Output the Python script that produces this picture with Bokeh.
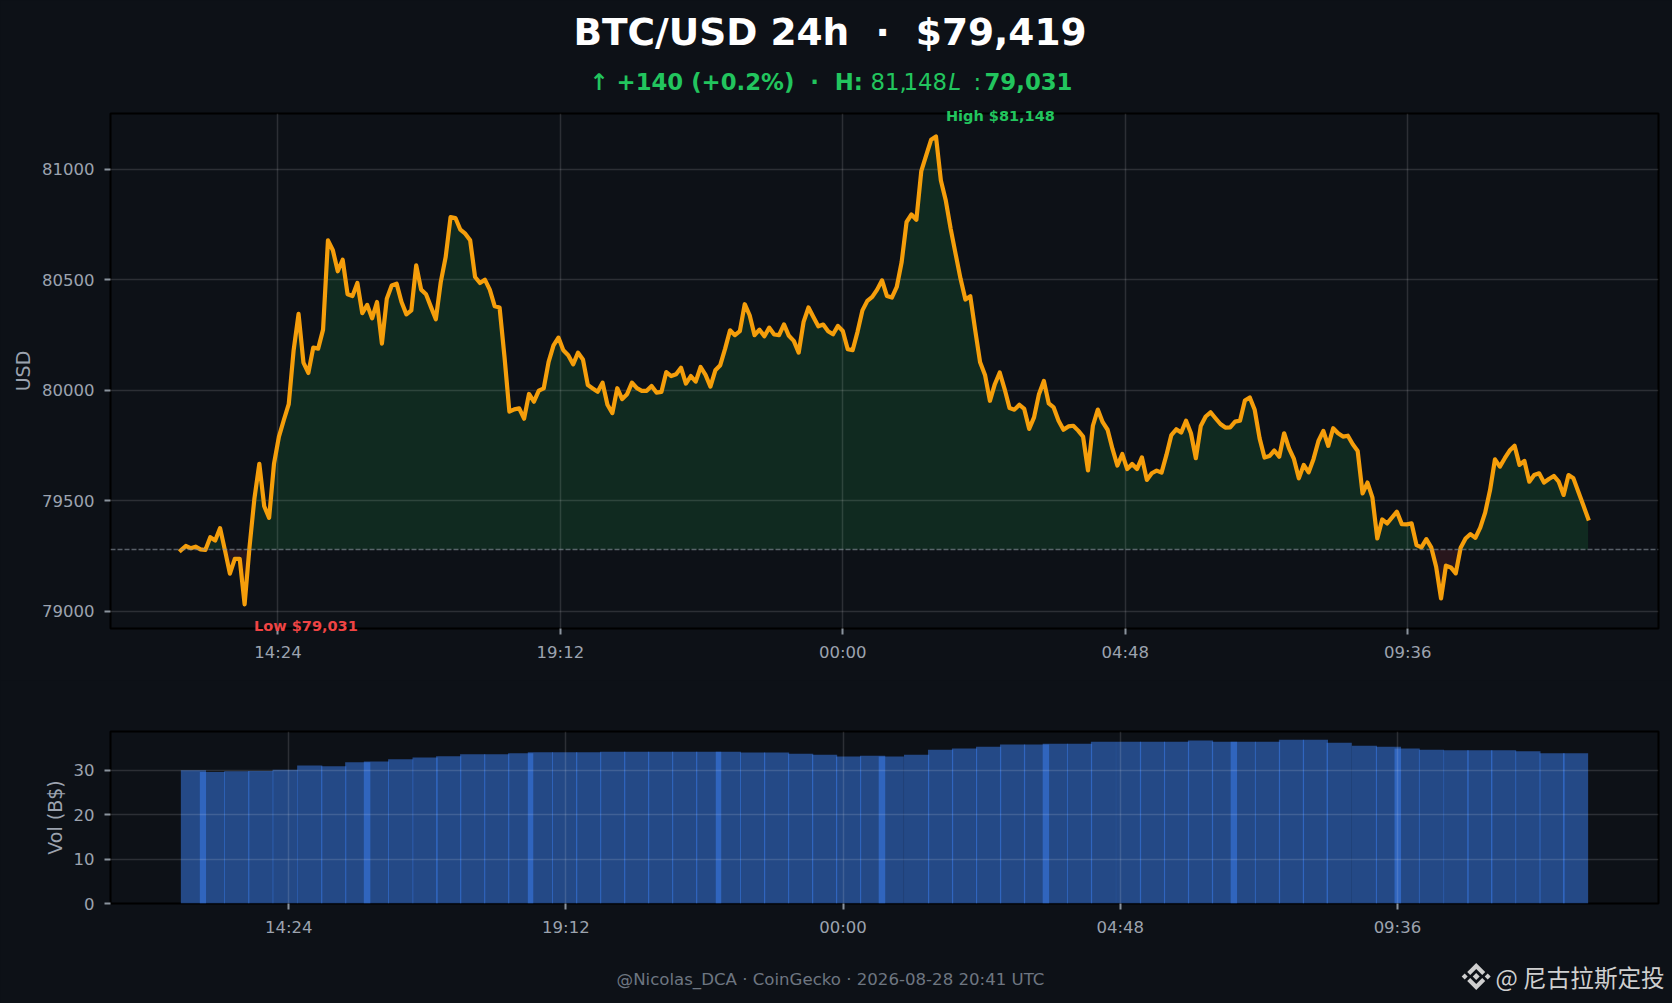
from bokeh.plotting import figure
from bokeh.layouts import column
from bokeh.models import Range1d, FixedTicker, Span, ColumnDataSource
from bokeh.core.properties import value
from bokeh.embed import file_html
from bokeh.resources import INLINE

BG = "#0d1117"
TICK = "#8b949e"
TICK_TEXT = "#9ca3af"
FONT = "DejaVu Sans"

start_hour = 12.75
step_hours = 5 / 60
base_price = 79279
prices = [
    79275, 79295, 79285, 79292, 79280, 79277, 79335, 79320, 79376, 79275,
    79170, 79237, 79237, 79031, 79290, 79510, 79667, 79475, 79422, 79668,
    79790, 79865, 79937,
    80181, 80345, 80125, 80078, 80193, 80188, 80274, 80678, 80633, 80538,
    80590, 80434, 80426, 80485, 80349, 80386, 80325, 80399, 80211, 80414,
    80474, 80482, 80399, 80343, 80361, 80565, 80455, 80434, 80377, 80321,
    80489, 80602, 80783, 80779, 80726, 80708, 80678, 80512, 80485, 80500,
    80455, 80380, 80374, 80151, 79903,
    79913, 79918, 79871, 79983, 79948, 79998,
    80008, 80128, 80203, 80238, 80181, 80158, 80117, 80170, 80139, 80023, 80008, 79993,
    80034, 79934, 79896, 80009, 79960, 79982, 80034, 80009, 79997, 79997,
    80019, 79989, 79992, 80082, 80064, 80072, 80102, 80030, 80064, 80039,
    80105, 80069, 80016, 80090, 80113, 80188, 80271, 80249, 80267, 80389,
    80339, 80249, 80274, 80244, 80283, 80252, 80249, 80298, 80246, 80223,
    80170, 80309, 80374, 80331, 80289, 80297, 80267, 80253, 80291, 80268,
    80185, 80181, 80264, 80361, 80404, 80422, 80455, 80497, 80426, 80419,
    80467, 80580, 80761, 80795, 80771, 80991, 81062, 81133, 81148, 80949,
    80858, 80730, 80617, 80505, 80410, 80425, 80271, 80126, 80069, 79952,
    80027, 80080, 80005, 79919, 79912, 79934, 79915, 79825, 79877, 79982,
    80042, 79940, 79922, 79862, 79821, 79836, 79839, 79817, 79790, 79637,
    79839, 79912, 79855, 79821, 79734, 79659,
    79711, 79643, 79666, 79643, 79696, 79594, 79624, 79636, 79627, 79707,
    79797, 79823, 79808, 79862, 79805, 79692, 79838, 79881, 79900, 79873,
    79847, 79831, 79832, 79858, 79862, 79953, 79967, 79911, 79782, 79695,
    79702, 79727, 79699, 79805, 79737, 79689, 79601, 79662, 79628, 79689,
    79770, 79816, 79748, 79828, 79805, 79790, 79794, 79755, 79725, 79533,
    79582, 79515, 79329, 79415, 79397, 79424, 79450, 79394, 79393, 79397,
    79299, 79289, 79326, 79289, 79201, 79058, 79206, 79198, 79171, 79287,
    79329, 79349, 79332, 79378, 79446, 79548, 79687, 79654, 79692, 79727,
    79749, 79662, 79680, 79586, 79616, 79624, 79582, 79598, 79612, 79586,
    79526, 79616, 79601, 79540, 79480, 79419,
]
vol_minutes = [
    0, 19.7, 45.0, 69.9, 95.3, 120.8, 145.7, 170.7, 190.1, 215.3,
    240.7, 265.2, 290.1, 315.1, 340.0, 360.5, 385.7, 410.6, 435.6, 460.5,
    485.4, 510.4, 535.3, 555.8, 581.0, 605.9, 630.9, 655.8, 680.7, 705.7,
    725.1, 751.4, 776.3, 801.2, 826.2, 851.1, 876.0, 895.5, 920.7, 945.6,
    971.6, 996.5, 1021.5, 1046.4, 1071.3, 1090.8, 1116.0, 1140.9, 1165.8, 1190.5,
    1216.7, 1241.7, 1261.1, 1286.4, 1312.0, 1336.6, 1361.3, 1386.6, 1411.7, 1436.1,
]
volumes = [
    30.0, 29.6, 29.8, 29.85, 30.15, 31.1, 30.9, 31.8, 32.0, 32.5,
    32.9, 33.15, 33.6, 33.6, 33.85, 34.05, 34.05, 34.05, 34.2, 34.2,
    34.2, 34.2, 34.2, 34.2, 34.0, 34.0, 33.75, 33.5, 33.1, 33.3,
    33.1, 33.5, 34.65, 34.9, 35.3, 35.8, 35.8, 36.0, 36.0, 36.45,
    36.45, 36.45, 36.45, 36.7, 36.45, 36.45, 36.45, 36.9, 36.9, 36.2,
    35.55, 35.3, 34.9, 34.65, 34.5, 34.5, 34.5, 34.3, 33.85, 33.85,
]
tick_hours = [14.4, 19.2, 24.0, 28.8, 33.6]
tick_labels = ["14:24", "19:12", "00:00", "04:48", "09:36"]
price_ticks = [79000, 79500, 80000, 80500, 81000]
vol_ticks = [0, 10, 20, 30]

hours = [start_hour + i * step_hours for i in range(len(prices))]
bar_hours = [start_hour + m / 60 for m in vol_minutes]
bar_width = 0.436
hi = max(prices)
lo = min(prices)
span_x = hours[-1] - hours[0]

MAIN_H, VOL_H = 680, 323
LEFT, RIGHT_PAD = 110, 14
FRAME_W = 1672 - LEFT - RIGHT_PAD
MAIN_TOP, MAIN_BOTTOM = 113, 628


def style(fig, ylabel, ticks, standoff):
    fig.background_fill_color = BG
    fig.border_fill_color = BG
    fig.outline_line_color = "#000000"
    fig.outline_line_width = 2
    fig.grid.grid_line_color = "#ffffff"
    fig.grid.grid_line_alpha = 0.13
    fig.grid.grid_line_width = 1.5
    fig.xaxis.ticker = FixedTicker(ticks=tick_hours)
    fig.xaxis.major_label_overrides = dict(zip(tick_hours, tick_labels))
    fig.yaxis.ticker = FixedTicker(ticks=ticks)
    fig.yaxis.formatter.use_scientific = False
    fig.yaxis.axis_label = ylabel
    fig.yaxis.axis_label_text_color = TICK_TEXT
    fig.yaxis.axis_label_text_font = FONT
    fig.yaxis.axis_label_text_font_size = "19px"
    fig.yaxis.axis_label_text_font_style = "normal"
    fig.yaxis.axis_label_standoff = standoff
    for ax in (fig.xaxis[0], fig.yaxis[0]):
        ax.axis_line_color = None
        ax.major_tick_line_color = TICK
        ax.major_tick_line_width = 2
        ax.major_tick_out = 6
        ax.major_tick_in = 0
        ax.minor_tick_line_color = None
        ax.major_label_text_color = TICK_TEXT
        ax.major_label_text_font = FONT
        ax.major_label_text_font_size = "16.5px"
    fig.xaxis[0].major_label_standoff = 8
    fig.yaxis[0].major_label_standoff = 10


x0, x1 = hours[0] - 0.05 * span_x, hours[-1] + 0.05 * span_x
y0, y1 = 78921.6, 81252
main = figure(width=1672, height=MAIN_H, output_backend="svg", toolbar_location=None,
              x_range=Range1d(x0, x1), y_range=Range1d(y0, y1),
              min_border_left=LEFT, min_border_right=RIGHT_PAD,
              min_border_top=MAIN_TOP, min_border_bottom=MAIN_H - MAIN_BOTTOM)
style(main, "USD", price_ticks, 5)

src = ColumnDataSource(dict(
    x=hours, y=prices, base=[base_price] * len(prices),
    up=[max(v, base_price) for v in prices],
    down=[min(v, base_price) for v in prices],
))
main.varea(x="x", y1="base", y2="up", source=src, fill_color="#22c55e", fill_alpha=0.14, level="image")
main.varea(x="x", y1="base", y2="down", source=src, fill_color="#ef4444", fill_alpha=0.12, level="image")
main.add_layout(Span(location=base_price, dimension="width", line_color=TICK, line_alpha=0.6,
                     line_width=1.4, line_dash="5 2"))
main.line(x="x", y="y", source=src, line_color="#f59e0b", line_width=4.2,
          line_join="round", line_cap="square")

bar_lo = bar_hours[0] - bar_width / 2
bar_hi = bar_hours[-1] + bar_width / 2
bar_span = bar_hi - bar_lo
vol = figure(width=1672, height=VOL_H, output_backend="svg", toolbar_location=None,
             x_range=Range1d(bar_lo - 0.05 * bar_span, bar_hi + 0.05 * bar_span),
             y_range=Range1d(0, 38.75),
             min_border_left=LEFT, min_border_right=RIGHT_PAD,
             min_border_top=731 - MAIN_H, min_border_bottom=1003 - 903)
style(vol, "Vol (B$)", vol_ticks, 5)
vol.vbar(x=bar_hours, top=volumes, width=bar_width, bottom=0,
         fill_color="#3b82f6", fill_alpha=0.5, line_color=None, level="image")

# full-page transparent layer for the texts that sit outside the plot frames
page_layer = figure(width=1672, height=1003, output_backend="svg", toolbar_location=None,
                    x_range=Range1d(0, 1672), y_range=Range1d(1003, 0),
                    x_axis_location=None, y_axis_location=None, min_border=0,
                    background_fill_alpha=0, border_fill_alpha=0, outline_line_color=None,
                    frame_align=False,
                    styles={"position": "absolute", "left": "0px", "top": "0px"})
page_layer.grid.visible = False


def text(x, y, s, size, color, style_="normal", font=FONT, align="left"):
    page_layer.text(x=[x], y=[y], text=[s], text_font=value(font), text_font_size=f"{size}px",
                    text_font_style=style_, text_color=color,
                    text_align=align, text_baseline="middle")


GREEN = "#22c55e"
NB = "\u00a0"
text(829.5, 31, f"BTC/USD 24h{NB}{NB}·{NB}{NB}$79,419", 37.5, "#ffffff", "bold", align="center")
text(589, 81, f"↑ +140 (+0.2%){NB}{NB}·{NB}{NB}H:", 22.8, GREEN, "bold")
text(870, 81, "81,", 22.8, GREEN)
text(903, 81, "148", 22.8, GREEN)
text(948, 81, "L", 22.8, GREEN, "italic")
text(973, 81, ":", 22.8, GREEN)
text(984, 81, "79,031", 22.8, GREEN, "bold")


def page_x(h):
    return LEFT + (h - x0) / (x1 - x0) * FRAME_W


def page_y(v):
    return MAIN_BOTTOM - (v - y0) / (y1 - y0) * (MAIN_BOTTOM - MAIN_TOP)


text(page_x(hours[prices.index(hi)]) + 10, page_y(hi) - 20.5, f"High ${hi:,}", 14.5, GREEN, "bold")
text(page_x(hours[prices.index(lo)]) + 9.5, page_y(lo) + 21.5, f"Low ${lo:,}", 14.5, "#ef4444", "bold")

text(830, 979, "@Nicolas_DCA · CoinGecko · 2026-08-28 20:41 UTC", 16.6, "#6e7681", align="center")
text(1495, 976, "@ 尼古拉斯定投", 23.6, "#cfcfcf", font="Noto Sans CJK SC")

cx, cy = 1475.7, 976
logo_parts = [
    [(-11.5, 3), (-8.5, 0), (-11.5, -3), (-14.5, 0)],
    [(11.5, 3), (14.5, 0), (11.5, -3), (8.5, 0)],
    [(0, 3.5), (3.5, 0), (0, -3.5), (-3.5, 0)],
    [(0, 13.5), (9, 4.5), (6, 1.5), (0, 7.5), (-6, 1.5), (-9, 4.5)],
    [(0, -13.5), (9, -4.5), (6, -1.5), (0, -7.5), (-6, -1.5), (-9, -4.5)],
]
for part in logo_parts:
    page_layer.patch(x=[cx + a for a, _ in part], y=[cy + b for _, b in part],
                     fill_color="#cfcfcf", line_color=None)

page = column(main, vol, page_layer, spacing=0)
html = file_html(page, INLINE).replace(
    "<head>", f"<head><style>html,body{{margin:0;padding:0;background:{BG};}}</style>", 1)
open("out.html", "w").write(html)
